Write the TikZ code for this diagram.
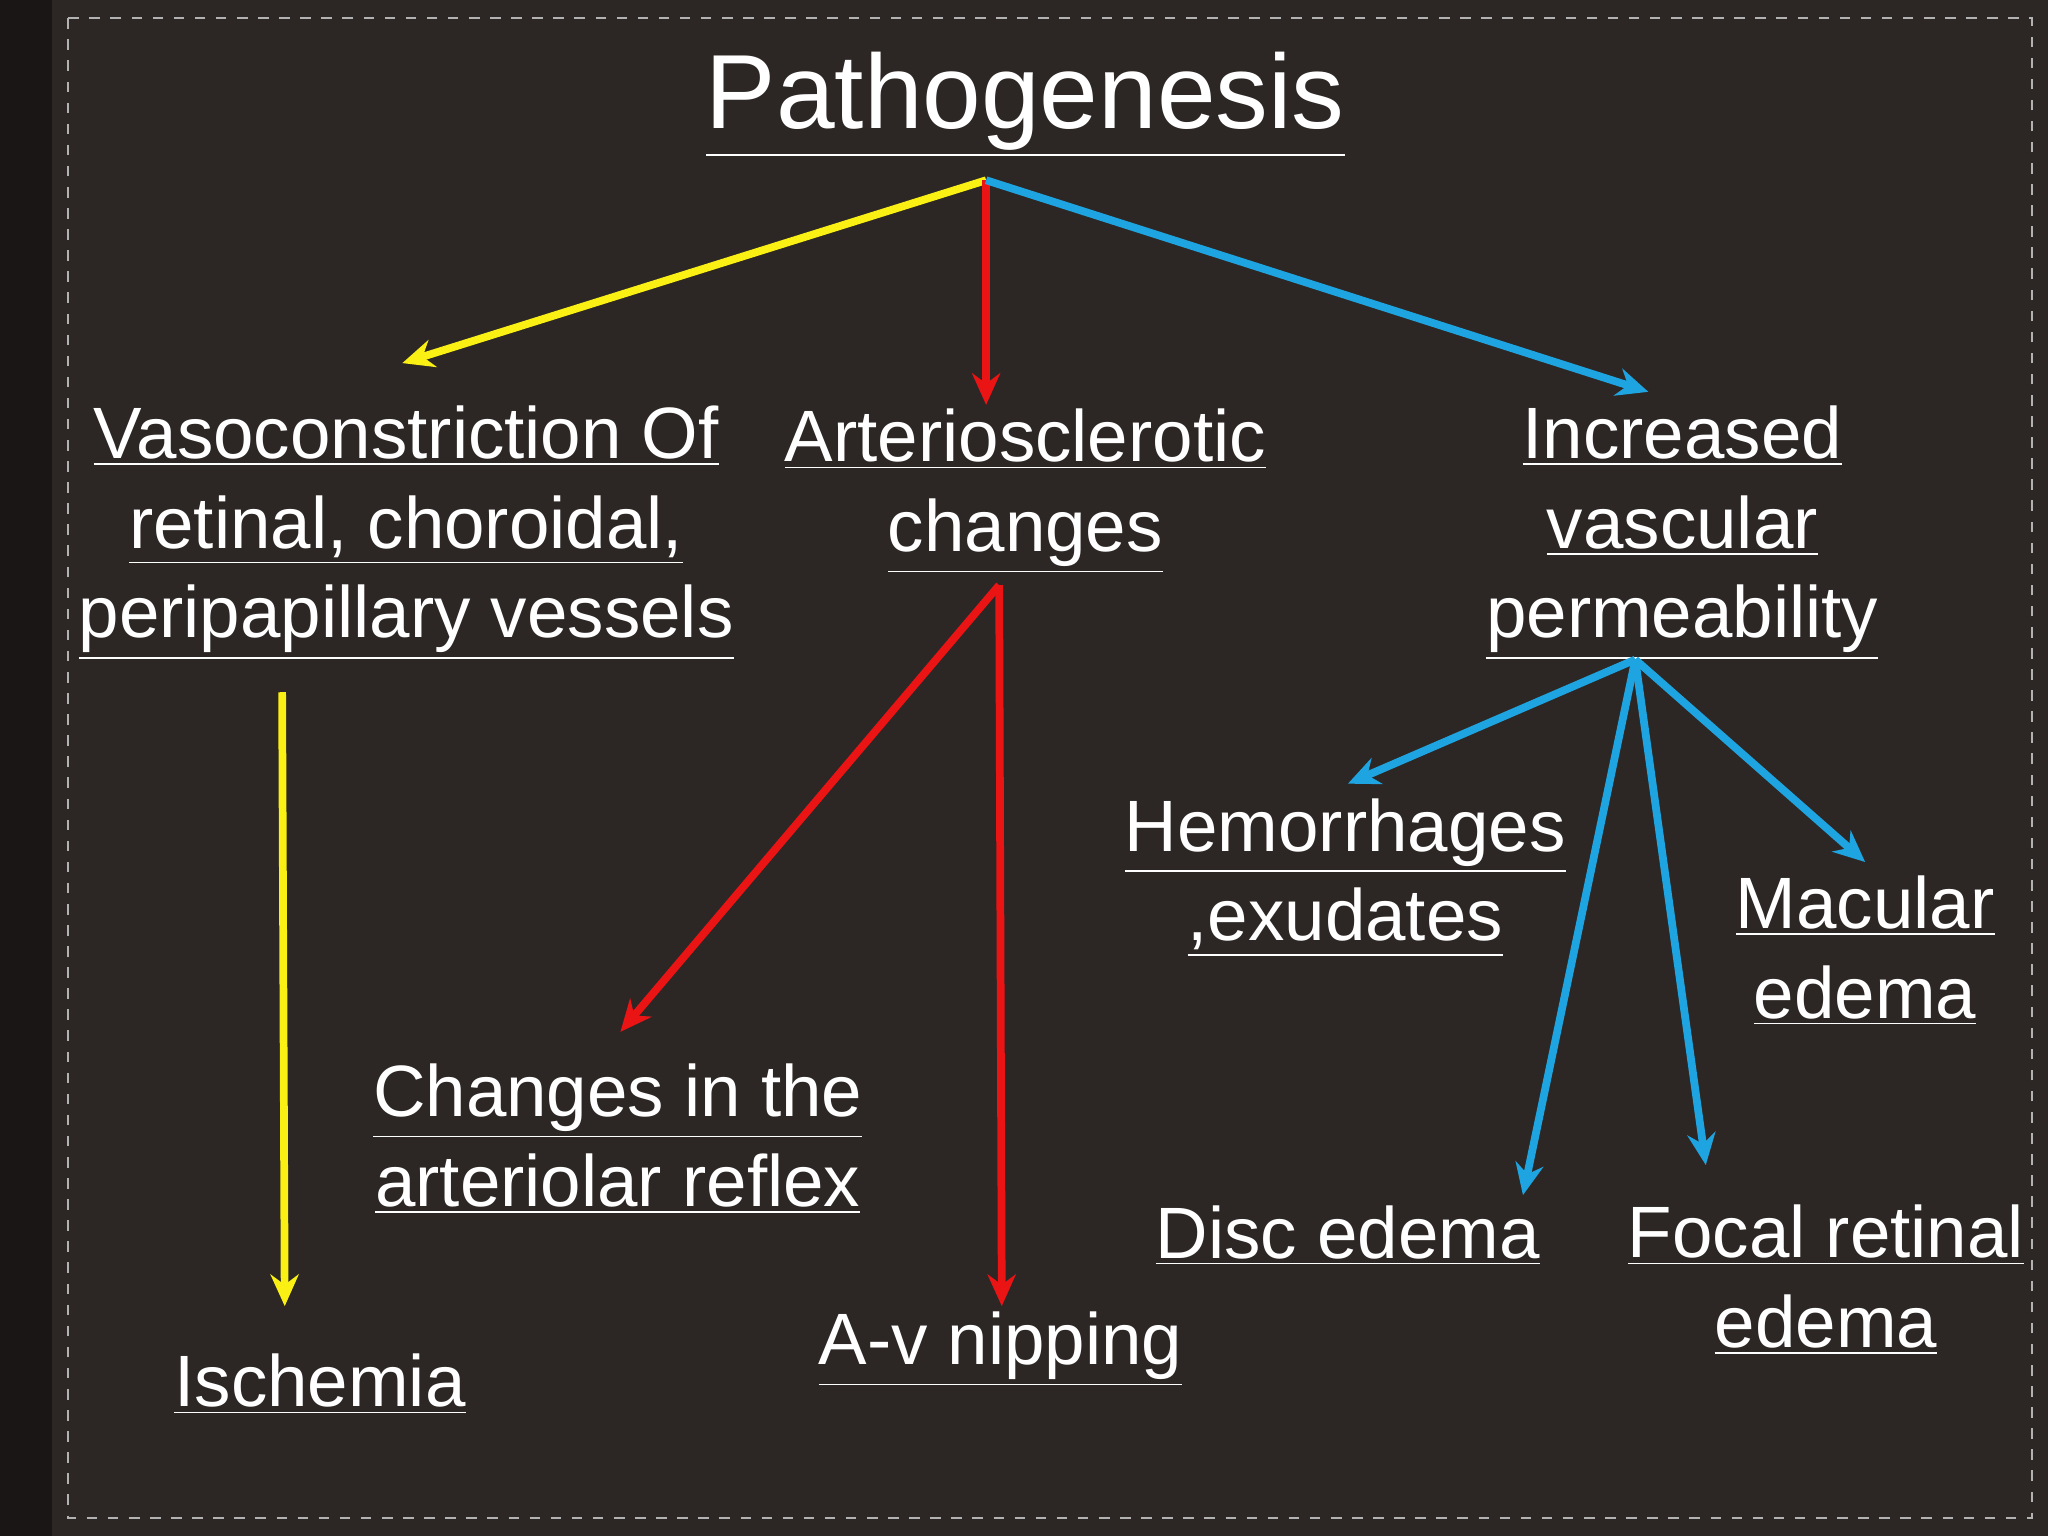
\documentclass[tikz,border=0pt]{standalone}
\usepackage{fontspec}
\setmainfont{Liberation Sans}
\usetikzlibrary{positioning, arrows.meta}
\definecolor{bgdark}{RGB}{44,39,37}
\definecolor{edgedark}{RGB}{25,22,21}
\definecolor{pyellow}{RGB}{250,240,20}
\definecolor{pred}{RGB}{235,20,20}
\definecolor{pblue}{RGB}{30,165,225}
\newcommand{\ul}[1]{\underline{#1}}
\tikzset{
  lbl/.style={text=white, font=\fontsize{20.7}{25.5}\selectfont, align=center, inner sep=0pt},
  arr/.style={line width=2.2pt, -{Stealth[length=9pt,width=8pt]}}
}
\begin{document}
\begin{tikzpicture}[x=0.01306cm, y=-0.01306cm]
  \useasboundingbox (0,0) rectangle (1568,1176);
  \fill[edgedark] (0,0) rectangle (1568,1176);
  \fill[bgdark] (40,0) rectangle (1568,1176);
  \draw[gray!60, dashed, line width=0.6pt] (52,14) rectangle (1556,1162);
  \node[lbl, font=\fontsize{30}{36}\selectfont] (title) at (785,80) {\ul{Pathogenesis}};
  \node[lbl] (vaso) at (311,408) {\ul{Vasoconstriction Of}\\ \ul{retinal, choroidal,}\\ \ul{peripapillary vessels}};
  \node[lbl] (arterio) at (785,376) {\ul{Arteriosclerotic}\\ \ul{changes}};
  \node[lbl] (incr) at (1288,408) {\ul{Increased}\\ \ul{vascular}\\ \ul{permeability}};
  \node[lbl] (ischemia) at (245,1060) {\ul{Ischemia}};
  \node[lbl] (reflex) at (473,872) {\ul{Changes in the}\\ \ul{arteriolar reflex}};
  \node[lbl] (nipping) at (766,1033) {\ul{A-v nipping}};
  \node[lbl] (hemo) at (1030,672) {\ul{Hemorrhages}\\ \ul{,exudates}};
  \node[lbl] (macular) at (1428,728) {\ul{Macular}\\ \ul{edema}};
  \node[lbl] (disc) at (1032,946) {\ul{Disc edema}};
  \node[lbl] (focal) at (1398,980) {\ul{Focal retinal}\\ \ul{edema}};
  % hubs and arrow ends
  \coordinate (top) at (755,138);
  \coordinate (vasoin) at (308,278);
  \coordinate (arterioin) at (755,310);
  \coordinate (incrin) at (1262,300);
  \coordinate (vasoout) at (216,530);
  \coordinate (ischemiain) at (218,1000);
  \coordinate (arteriout) at (765,448);
  \coordinate (reflexin) at (475,790);
  \coordinate (nippingin) at (767,1000);
  \coordinate (incrout) at (1252,505);
  \coordinate (hemoin) at (1032,600);
  \coordinate (discin) at (1166,915);
  \coordinate (focalin) at (1306,892);
  \coordinate (macularin) at (1428,660);
  % connectors
  \draw[arr, pyellow] (top) -- (vasoin);
  \draw[arr, pred] (top) -- (arterioin);
  \draw[arr, pblue] (top) -- (incrin);
  \draw[arr, pyellow] (vasoout) -- (ischemiain);
  \draw[arr, pred] (arteriout) -- (reflexin);
  \draw[arr, pred] (arteriout) -- (nippingin);
  \draw[arr, pblue] (incrout) -- (hemoin);
  \draw[arr, pblue] (incrout) -- (discin);
  \draw[arr, pblue] (incrout) -- (focalin);
  \draw[arr, pblue] (incrout) -- (macularin);
\end{tikzpicture}
\end{document}
